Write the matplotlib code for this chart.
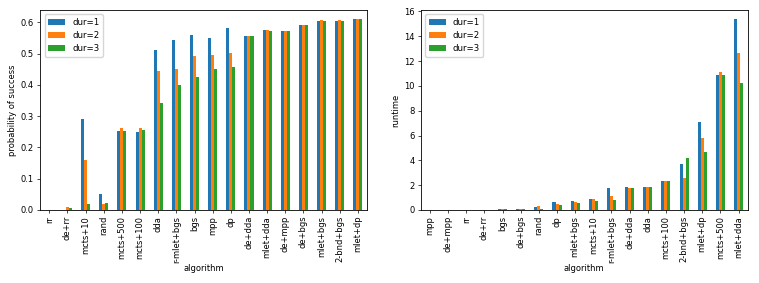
import pandas as pd
import matplotlib.pyplot as plt

# original figure was rendered larger and shrunk; scale the defaults down
plt.rcParams.update({
    "font.size": 6.0,
    "xtick.major.size": 2.2, "ytick.major.size": 2.2,
    "xtick.major.pad": 2.0, "ytick.major.pad": 2.2,
    "xtick.major.width": 0.5, "ytick.major.width": 0.5,
    "axes.linewidth": 0.6, "axes.labelpad": 2.5,
})

# success probability per algorithm
succ_algos = ["rr", "de+rr", "mcts+10", "rand", "mcts+500", "mcts+100", "dda",
              "r-mlet+bgs", "bgs", "mpp", "dp", "de+dda", "mlet+dda", "de+mpp",
              "de+bgs", "mlet+bgs", "2-bnd+bgs", "mlet+dp"]
succ_d1 = [0.0, 0.0, 0.292, 0.052, 0.253, 0.248, 0.511, 0.542, 0.559, 0.550,
           0.583, 0.557, 0.574, 0.572, 0.590, 0.605, 0.605, 0.609]
succ_d2 = [0.0, 0.008, 0.160, 0.020, 0.262, 0.262, 0.443, 0.452, 0.492, 0.495,
           0.503, 0.556, 0.574, 0.572, 0.590, 0.606, 0.606, 0.609]
succ_d3 = [0.0, 0.005, 0.018, 0.022, 0.251, 0.255, 0.341, 0.400, 0.424, 0.450,
           0.456, 0.556, 0.572, 0.572, 0.590, 0.603, 0.603, 0.609]

# runtime per algorithm
rt_algos = ["mpp", "de+mpp", "rr", "de+rr", "bgs", "de+bgs", "rand", "dp",
            "mlet+bgs", "mcts+10", "r-mlet+bgs", "de+dda", "dda", "mcts+100",
            "2-bnd+bgs", "mlet+dp", "mcts+500", "mlet+dda"]
rt_d1 = [0.01, 0.01, 0.005, 0.005, 0.05, 0.05, 0.28, 0.65, 0.75, 0.90, 1.75,
         1.85, 1.85, 2.35, 3.70, 7.05, 10.85, 15.35]
rt_d2 = [0.01, 0.01, 0.005, 0.005, 0.05, 0.05, 0.30, 0.50, 0.65, 0.85, 1.10,
         1.80, 1.85, 2.35, 2.60, 5.80, 11.10, 12.65]
rt_d3 = [0.01, 0.01, 0.005, 0.005, 0.05, 0.05, 0.08, 0.38, 0.55, 0.75, 0.80,
         1.75, 1.85, 2.35, 4.15, 4.70, 10.90, 10.25]

succ = pd.DataFrame({"dur=1": succ_d1, "dur=2": succ_d2, "dur=3": succ_d3},
                    index=pd.Index(succ_algos, name="algorithm"))
rt = pd.DataFrame({"dur=1": rt_d1, "dur=2": rt_d2, "dur=3": rt_d3},
                  index=pd.Index(rt_algos, name="algorithm"))

fig, (ax1, ax2) = plt.subplots(1, 2, figsize=(7.59, 2.83), dpi=100)
succ.plot.bar(ax=ax1)
ax1.set_ylabel("probability of success")
rt.plot.bar(ax=ax2)
ax2.set_ylabel("runtime")
for ax in (ax1, ax2):
    ax.legend(loc="upper left", fontsize=6.2)
    ax.xaxis.labelpad = 1.0

fig.subplots_adjust(left=0.053, right=0.985, top=0.965, bottom=0.258, wspace=0.165)
fig.savefig("out.png", dpi=100)
